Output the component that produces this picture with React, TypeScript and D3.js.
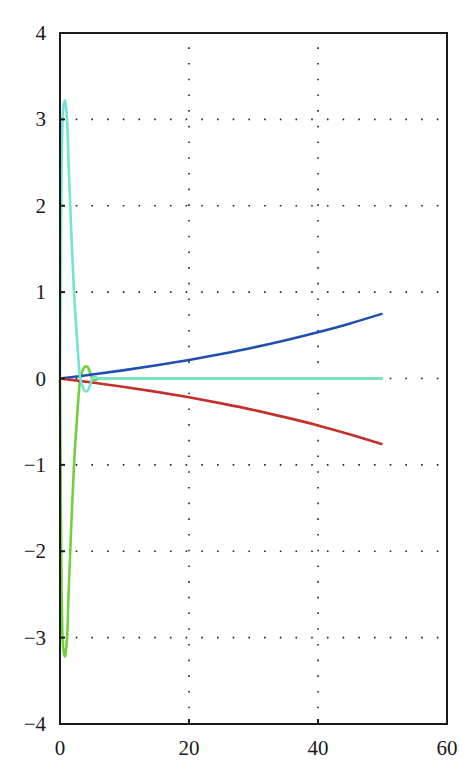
import React from "react";
import * as d3 from "d3";

const xTicks = [0, 20, 40, 60];
const yTicks = [-4, -3, -2, -1, 0, 1, 2, 3, 4];

const blueX = [0, 5, 10, 15, 20, 25, 30, 35, 40, 45, 50];
const blueY = [0, 0.046, 0.097, 0.153, 0.215, 0.284, 0.359, 0.443, 0.535, 0.638, 0.751];
const redX = [0, 5, 10, 15, 20, 25, 30, 35, 40, 45, 50];
const redY = [0, -0.047, -0.098, -0.155, -0.218, -0.288, -0.364, -0.45, -0.543, -0.648, -0.762];

const cyanX = [0, 0.08, 0.16, 0.25, 0.35, 0.5, 0.65, 0.78, 0.92, 1.09, 1.4, 1.8, 2.17, 2.6, 3.1, 3.5, 3.8, 4.1, 4.4, 4.7, 5.0, 5.4, 6.0, 10, 20, 30, 40, 50];
const cyanY = [0, 0.9, 1.8, 2.5, 2.9, 3.12, 3.2, 3.22, 3.15, 3.0, 2.35, 1.6, 1.0, 0.5, 0.02, -0.09, -0.14, -0.15, -0.13, -0.07, 0.0, 0.02, 0, 0, 0, 0, 0, 0];
const greenX = [0, 0.08, 0.16, 0.25, 0.35, 0.5, 0.65, 0.78, 0.92, 1.09, 1.4, 1.8, 2.17, 2.6, 3.1, 3.5, 3.8, 4.1, 4.4, 4.7, 5.0, 5.4, 6.0, 10, 20, 30, 40, 50];
const greenY = [0, -0.9, -1.8, -2.5, -2.9, -3.12, -3.2, -3.22, -3.15, -3.0, -2.35, -1.6, -1.0, -0.5, -0.02, 0.09, 0.13, 0.14, 0.12, 0.06, 0.0, -0.02, 0, 0, 0, 0, 0, 0];

const series = [
  { name: "green", xs: greenX, ys: greenY, color: "#72cf3f", smooth: false },
  { name: "blue", xs: blueX, ys: blueY, color: "#1f4fb3", smooth: true },
  { name: "red", xs: redX, ys: redY, color: "#c4302b", smooth: true },
  { name: "cyan", xs: cyanX, ys: cyanY, color: "#76e2cf", smooth: false },
];

export default function App() {
  const W = 474, H = 782;
  const L = 60, R = 447, T = 33, B = 724;
  const x = d3.scaleLinear().domain([0, 60]).range([L, R]);
  const y = d3.scaleLinear().domain([-4, 4]).range([B, T]);
  const lineMono = d3
    .line<[number, number]>()
    .x((d) => x(d[0]))
    .y((d) => y(d[1]))
    .curve(d3.curveMonotoneX);
  const lineSmooth = d3
    .line<[number, number]>()
    .x((d) => x(d[0]))
    .y((d) => y(d[1]))
    .curve(d3.curveCatmullRom);
  const fmt = (v: number) => (v < 0 ? "\u2212" + Math.abs(v) : String(v));

  return (
    <svg width={W} height={H} style={{ position: "absolute", left: 0, top: 0 }}>
      <style>{`.lbl { font-family: "Liberation Serif", "Times New Roman", Times, serif !important; font-size: 21px; fill: #1a1a1a; }`}</style>
      <rect x={0} y={0} width={W} height={H} fill="#fff" />
      {xTicks
        .filter((t) => t > 0 && t < 60)
        .map((t) => (
          <line key={"gx" + t} x1={x(t)} x2={x(t)} y1={B} y2={T} stroke="#222" strokeWidth={1.6}
            strokeDasharray="1.6 14.1" />
        ))}
      {yTicks
        .filter((t) => t > -4 && t < 4)
        .map((t) => (
          <line key={"gy" + t} x1={L} x2={R} y1={y(t)} y2={y(t)} stroke="#222" strokeWidth={1.6}
            strokeDasharray="1.6 14.1" />
        ))}
      {series.map((s) => {
        const pts = s.xs.map((v, i) => [v, s.ys[i]] as [number, number]);
        const d = (s.smooth ? lineSmooth(pts) : lineMono(pts)) || "";
        return (
          <path key={s.name} d={d} fill="none" stroke={s.color} strokeWidth={2.6} strokeLinejoin="round" />
        );
      })}
      <rect x={L} y={T} width={R - L} height={B - T} fill="none" stroke="#1a1a1a" strokeWidth={2} />
      {xTicks.map((t) => (
        <line key={"xt" + t} x1={x(t)} x2={x(t)} y1={B} y2={B - 5} stroke="#1a1a1a" strokeWidth={2} />
      ))}
      {yTicks.map((t) => (
        <line key={"yt" + t} x1={L} x2={L + 5} y1={y(t)} y2={y(t)} stroke="#1a1a1a" strokeWidth={2} />
      ))}
      {xTicks.map((t) => (
        <text key={"xl" + t} className="lbl" x={x(t)} y={B + 31} textAnchor="middle">
          {fmt(t)}
        </text>
      ))}
      {yTicks.map((t) => (
        <text key={"yl" + t} className="lbl" x={46} y={y(t) + 7} textAnchor="end">
          {fmt(t)}
        </text>
      ))}
    </svg>
  );
}
